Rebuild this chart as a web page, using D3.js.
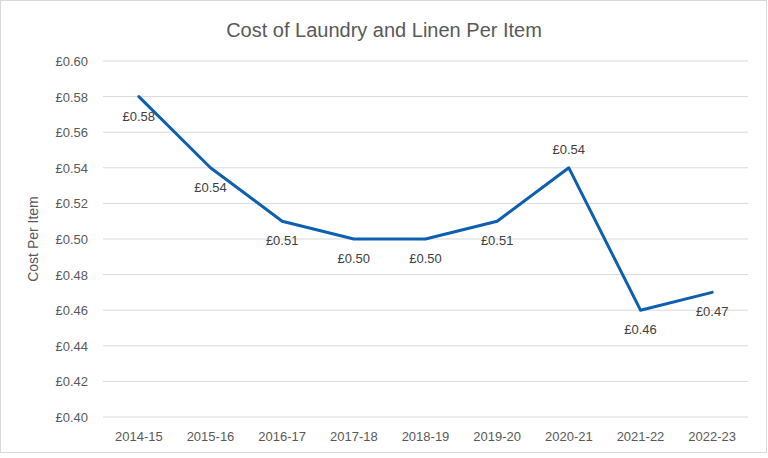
<!DOCTYPE html>
<html lang="en">
<head>
<meta charset="UTF-8">
<title>Cost of Laundry and Linen Per Item</title>
<style>
  body { margin: 0; background: #fff; }
  text { font-family: "Liberation Sans", Arial, sans-serif; }
</style>
</head>
<body>
<script src="https://d3js.org/d3.v7.min.js"></script>
<script>
var years = ["2014-15", "2015-16", "2016-17", "2017-18", "2018-19", "2019-20", "2020-21", "2021-22", "2022-23"];
var costs = [0.58, 0.54, 0.51, 0.50, 0.50, 0.51, 0.54, 0.46, 0.47];
var labelAbove = [false, false, false, false, false, false, true, false, false];
var yTicks = [0.40, 0.42, 0.44, 0.46, 0.48, 0.50, 0.52, 0.54, 0.56, 0.58, 0.60];

(function() {
  var width = 768, height = 458;
  var left = 103, right = 748, top = 61, bottom = 417;

  var svg = d3.select("body").append("svg")
    .attr("width", width).attr("height", height);

  svg.append("rect")
    .attr("x", 0.5).attr("y", 0.5).attr("width", width - 2).attr("height", 452)
    .attr("fill", "#fff").attr("stroke", "#d9d9d9");

  var x = d3.scaleBand().domain(years).range([left, right]);
  var y = d3.scaleLinear().domain([0.40, 0.60]).range([bottom, top]);

  svg.append("text")
    .attr("x", 384).attr("y", 37).attr("text-anchor", "middle")
    .attr("font-size", 20).attr("fill", "#595959")
    .text("Cost of Laundry and Linen Per Item");

  svg.selectAll(".grid").data(yTicks).enter().append("line")
    .attr("x1", left).attr("x2", right)
    .attr("y1", function(d) { return y(d); }).attr("y2", function(d) { return y(d); })
    .attr("stroke", "#d9d9d9").attr("stroke-width", 1);

  svg.selectAll(".ytick").data(yTicks).enter().append("text")
    .attr("x", 88).attr("y", function(d) { return y(d) + 5; })
    .attr("text-anchor", "end").attr("font-size", 13).attr("fill", "#595959")
    .text(function(d) { return "£" + d.toFixed(2); });

  svg.selectAll(".xtick").data(years).enter().append("text")
    .attr("x", function(d) { return x(d) + x.bandwidth() / 2; }).attr("y", 441)
    .attr("text-anchor", "middle").attr("font-size", 13).attr("fill", "#595959")
    .text(function(d) { return d; });

  svg.append("text")
    .attr("transform", "translate(38," + ((top + bottom) / 2) + ") rotate(-90)")
    .attr("text-anchor", "middle").attr("font-size", 14).attr("fill", "#595959")
    .text("Cost Per Item");

  var line = d3.line()
    .x(function(d, i) { return x(years[i]) + x.bandwidth() / 2; })
    .y(function(d) { return y(d); });

  svg.append("path").datum(costs)
    .attr("d", line).attr("fill", "none")
    .attr("stroke", "#0f5fb0").attr("stroke-width", 3)
    .attr("stroke-linejoin", "round").attr("stroke-linecap", "round");

  svg.selectAll(".lbl").data(costs).enter().append("text")
    .attr("x", function(d, i) { return x(years[i]) + x.bandwidth() / 2; })
    .attr("y", function(d, i) { return y(d) + (labelAbove[i] ? -14 : 24); })
    .attr("text-anchor", "middle").attr("font-size", 13).attr("fill", "#404040")
    .text(function(d) { return "£" + d.toFixed(2); });
})();
</script>
</body>
</html>
